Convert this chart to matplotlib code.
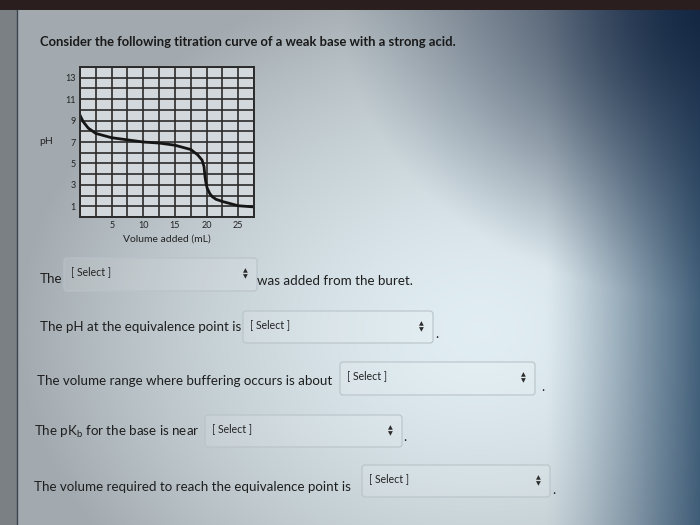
import matplotlib.pyplot as plt
import numpy as np
from matplotlib.patches import FancyBboxPatch

plt.rcParams['font.family'] = ['Lato', 'DejaVu Sans']
plt.rcParams['mathtext.fontset'] = 'custom'
plt.rcParams['mathtext.rm'] = 'Lato'

# Titration curve
volume = [0, 0.5, 1.3, 2.5, 5, 7.5, 10, 12.5, 15, 17.5, 18.6, 19.3, 19.6, 19.75,
          19.9, 20.1, 20.5, 20.9, 21.5, 22.5, 25, 27.3]
ph = [9.5, 8.9, 8.3, 7.8, 7.4, 7.2, 7.0, 6.9, 6.7, 6.3, 5.8, 5.3, 4.7, 3.8,
      3.2, 2.7, 2.2, 1.9, 1.65, 1.45, 1.05, 0.95]

x_ticks = [5, 10, 15, 20, 25]
y_ticks = [1, 3, 5, 7, 9, 11, 13]

title = 'Consider the following titration curve of a weak base with a strong acid.'
questions = [
    'The',
    'The pH at the equivalence point is',
    'The volume range where buffering occurs is about',
    r'The pK$_\mathrm{b}$ for the base is near',
    'The volume required to reach the equivalence point is',
]

fig = plt.figure(figsize=(7, 5.25), dpi=100)

# photographed screen background
h, w = 525, 700
yy, xx = np.mgrid[0:h, 0:w]
light = np.array([0.88, 0.93, 0.95])
grey = np.array([0.64, 0.67, 0.69])
teal = np.array([0.15, 0.28, 0.40])
navy = np.array([0.07, 0.14, 0.25])
r = np.hypot((xx - 480) / 460, (yy - 330) / 360)
f = np.clip(r, 0, 1)[..., None] ** 1.6
bg = light * (1 - f) + grey * f
wr = np.clip((xx - 545) / 165, 0, 1)[..., None] ** 1.2 * 0.9
bg = bg * (1 - wr) + teal * wr
d = np.hypot(xx - 720, (yy - 10) * 1.3)
wn = np.clip(1 - d / 380, 0, 1)[..., None] ** 1.1
bg = bg * (1 - wn) + navy * wn
bg[:, :17] = bg[:, :17] * 0.75
bg[:10] = np.array([0.17, 0.12, 0.12])

bg_ax = fig.add_axes([0, 0, 1, 1])
bg_ax.imshow(bg, extent=[0, w, h, 0], aspect='auto')
bg_ax.set_xlim(0, w)
bg_ax.set_ylim(h, 0)
bg_ax.axis('off')
bg_ax.plot([17, 17], [10, h], color='#3a4550', lw=1)

bg_ax.text(40, 42, title, fontsize=9.4, fontweight='bold', color='#1a1a1a', va='center')

# titration chart
ax = fig.add_axes([80 / 700, 1 - 217 / 525, 174 / 700, 150 / 525])
ax.set_facecolor('#d3d8dc')
ax.plot(volume, ph, color='#151515', lw=2)
ax.set_xlim(0, 27.5)
ax.set_ylim(0, 14)
ax.set_xticks(x_ticks)
ax.set_yticks(y_ticks)
ax.set_xticks(np.arange(0, 27.6, 2.5), minor=True)
ax.set_yticks(np.arange(0, 15, 1), minor=True)
ax.grid(which='both', color='#2b2b2b', lw=1.2)
ax.tick_params(which='both', length=0, labelsize=6.5, colors='#222222', pad=3)
for s in ax.spines.values():
    s.set_color('#2b2b2b')
    s.set_linewidth(1.4)
ax.set_xlabel('Volume added (mL)', fontsize=7.5, color='#222222', labelpad=3)
ax.set_ylabel('pH', fontsize=7.5, color='#222222', rotation=0, labelpad=14, va='center')

# question rows: text position, select box, trailing text
rows = [
    (40, 279, (64, 258, 257, 291), 'was added from the buret.', 257, 281),
    (40, 327, (243, 311, 433, 343), '.', 435, 334),
    (37, 381, (340, 362, 535, 395), '.', 541, 387),
    (34, 432, (205, 415, 402, 447), '.', 403, 437),
    (34, 487, (362, 465, 550, 497), '.', 552, 490),
]
for q, (tx, ty, (x0, y0, x1, y1), tail, ex, ey) in zip(questions, rows):
    bg_ax.text(tx, ty, q, fontsize=9.6, color='#1e1e1e', va='center')
    box = FancyBboxPatch((x0, y0), x1 - x0, y1 - y0, boxstyle='round,pad=0,rounding_size=3',
                         fc=(1, 1, 1, 0.10), ec='#b9c2ca', lw=0.8)
    bg_ax.add_patch(box)
    bg_ax.text(x0 + 7, y0 + 14, '[ Select ]', fontsize=7.6, color='#222222', va='center')
    bg_ax.text(x1 - 12, y0 + 15, '\u25b2', fontsize=4.5, color='#2a2a2a', ha='center', va='bottom')
    bg_ax.text(x1 - 12, y0 + 16, '\u25bc', fontsize=4.5, color='#2a2a2a', ha='center', va='top')
    bg_ax.text(ex, ey, tail, fontsize=9.6, color='#1e1e1e', va='center')

fig.savefig('out.png', dpi=100)
